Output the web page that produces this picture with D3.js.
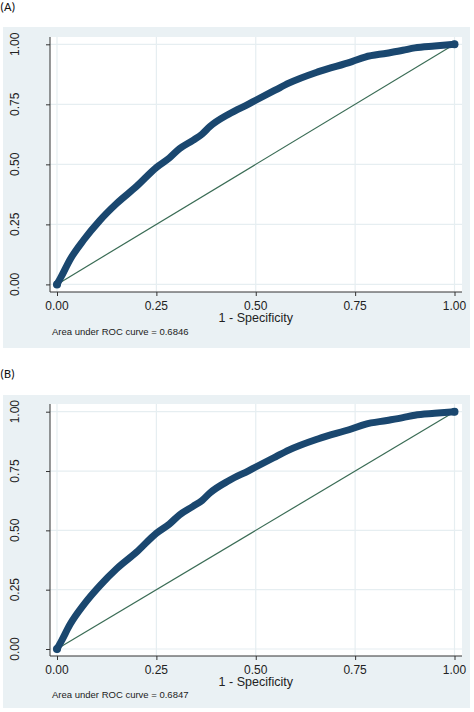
<!DOCTYPE html>
<html>
<head>
<meta charset="utf-8">
<script src="https://cdn.jsdelivr.net/npm/d3@7/dist/d3.min.js"></script>
<style>
  html, body { margin: 0; padding: 0; background: #ffffff; }
  svg { display: block; }
</style>
</head>
<body>
<svg id="chart" width="474" height="712"></svg>
<script>
// ---- data ----
const panelLabels = ["(A)", "(B)"];
const aucLabels = ["Area under ROC curve = 0.6846", "Area under ROC curve = 0.6847"];
const tickValues = [0, 0.25, 0.5, 0.75, 1];
const tickLabels = ["0.00", "0.25", "0.50", "0.75", "1.00"];
const xTitle = "1 - Specificity";

const fprA = [0, 0.01, 0.033, 0.067, 0.108, 0.15, 0.2, 0.25, 0.283, 0.308, 0.342, 0.365, 0.385, 0.433, 0.483, 0.5, 0.55, 0.583, 0.658, 0.742, 0.775, 0.83, 0.87, 0.9, 0.95, 1.0];
const tprA = [0, 0.03, 0.104, 0.185, 0.267, 0.337, 0.408, 0.487, 0.527, 0.565, 0.6, 0.626, 0.658, 0.71, 0.752, 0.767, 0.81, 0.838, 0.886, 0.928, 0.947, 0.963, 0.975, 0.985, 0.993, 1.0];

const fprB = [0, 0.01, 0.033, 0.067, 0.108, 0.15, 0.2, 0.25, 0.283, 0.308, 0.342, 0.365, 0.385, 0.433, 0.483, 0.5, 0.55, 0.583, 0.658, 0.742, 0.775, 0.83, 0.87, 0.9, 0.95, 1.0];
const tprB = [0, 0.03, 0.104, 0.186, 0.267, 0.338, 0.408, 0.488, 0.527, 0.565, 0.601, 0.626, 0.658, 0.71, 0.752, 0.767, 0.81, 0.838, 0.886, 0.928, 0.947, 0.963, 0.975, 0.985, 0.993, 1.0];

// ---- layout ----
const panels = [
  { label: panelLabels[0], auc: aucLabels[0], fpr: fprA, tpr: tprA,
    labelY: 11, bgTop: 27, bgBottom: 348, plotTop: 37, axisY: 292, y1: 44.3, y0: 284.4,
    tickLabelY: 309.5, titleY: 322, aucY: 334.5 },
  { label: panelLabels[1], auc: aucLabels[1], fpr: fprB, tpr: tprB,
    labelY: 378, bgTop: 395, bgBottom: 708, plotTop: 404, axisY: 656, y1: 411.7, y0: 649,
    tickLabelY: 673.5, titleY: 686, aucY: 698 }
];

const bgLeft = 3, bgRight = 470, plotLeft = 50, plotRight = 462;
const x0px = 57, x1px = 454.5;

const svg = d3.select("#chart");
const font = "'Liberation Sans', Arial, Helvetica, sans-serif";

panels.forEach(p => {
  const g = svg.append("g");
  const x = d3.scaleLinear().domain([0, 1]).range([x0px, x1px]);
  const y = d3.scaleLinear().domain([0, 1]).range([p.y0, p.y1]);

  g.append("text").attr("x", 0).attr("y", p.labelY)
    .attr("font-family", "Carlito, 'Open Sans', 'Liberation Sans', sans-serif")
    .attr("font-size", 13).attr("fill", "#111").text(p.label);

  g.append("rect").attr("x", bgLeft).attr("y", p.bgTop)
    .attr("width", bgRight - bgLeft).attr("height", p.bgBottom - p.bgTop)
    .attr("fill", "#eaf1f4");

  g.append("rect").attr("x", plotLeft).attr("y", p.plotTop)
    .attr("width", plotRight - plotLeft).attr("height", p.axisY - p.plotTop)
    .attr("fill", "#ffffff");

  // gridlines
  g.selectAll(".hg").data(tickValues).enter().append("line")
    .attr("x1", plotLeft).attr("x2", plotRight)
    .attr("y1", d => y(d)).attr("y2", d => y(d))
    .attr("stroke", "#e6eef1").attr("stroke-width", 1.2);
  g.selectAll(".vg").data(tickValues).enter().append("line")
    .attr("y1", p.plotTop).attr("y2", p.axisY)
    .attr("x1", d => x(d)).attr("x2", d => x(d))
    .attr("stroke", "#e6eef1").attr("stroke-width", 1.2);

  // axes
  const yAxis = d3.axisLeft(y).tickValues(tickValues).tickSize(4).tickFormat("");
  const ya = g.append("g").attr("transform", `translate(${plotLeft},0)`).call(yAxis);
  ya.select(".domain").attr("d", `M0,${p.plotTop}V${p.axisY}`).attr("stroke", "#333");
  ya.selectAll(".tick line").attr("stroke", "#333");

  const xAxis = d3.axisBottom(x).tickValues(tickValues).tickSize(4).tickFormat("");
  const xa = g.append("g").attr("transform", `translate(0,${p.axisY})`).call(xAxis);
  xa.select(".domain").attr("d", `M${plotLeft},0H${plotRight}`).attr("stroke", "#333");
  xa.selectAll(".tick line").attr("stroke", "#333");

  // tick labels
  g.selectAll(".yl").data(tickValues).enter().append("text")
    .attr("transform", d => `translate(18.5,${y(d)}) rotate(-90)`)
    .attr("text-anchor", "middle").attr("font-family", font).attr("font-size", 12)
    .attr("fill", "#222").text((d, i) => tickLabels[i]);
  g.selectAll(".xl").data(tickValues).enter().append("text")
    .attr("x", d => x(d)).attr("y", p.tickLabelY)
    .attr("text-anchor", "middle").attr("font-family", font).attr("font-size", 12)
    .attr("fill", "#222").text((d, i) => tickLabels[i]);

  g.append("text").attr("x", x(0.5)).attr("y", p.titleY)
    .attr("text-anchor", "middle").attr("font-family", font).attr("font-size", 12.5)
    .attr("fill", "#222").text(xTitle);

  g.append("text").attr("x", 52).attr("y", p.aucY)
    .attr("font-family", font).attr("font-size", 9.5)
    .attr("fill", "#222").text(p.auc);

  // diagonal reference
  g.append("line").attr("x1", x(0)).attr("y1", y(0)).attr("x2", x(1)).attr("y2", y(1))
    .attr("stroke", "#3a6c55").attr("stroke-width", 1.2);

  // ROC curve
  const pts = p.fpr.map((f, i) => [f, p.tpr[i]]);
  const line = d3.line().x(d => x(d[0])).y(d => y(d[1])).curve(d3.curveMonotoneX);
  g.append("path").datum(pts).attr("d", line)
    .attr("fill", "none").attr("stroke", "#1a476f").attr("stroke-width", 7)
    .attr("stroke-linejoin", "round").attr("stroke-linecap", "round");
  g.selectAll(".end").data([pts[0], pts[pts.length - 1]]).enter().append("circle")
    .attr("cx", d => x(d[0])).attr("cy", d => y(d[1])).attr("r", 4)
    .attr("fill", "#1a476f");
});
</script>
</body>
</html>
